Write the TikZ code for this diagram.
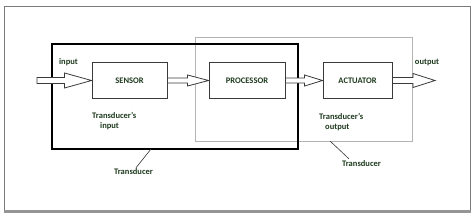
\documentclass[tikz,border=0pt]{standalone}
\usepackage{fontspec}
\setmainfont{Carlito}
\usetikzlibrary{calc}
\definecolor{txt}{HTML}{1E3A1E}
\definecolor{ln}{HTML}{3A3A3A}
\definecolor{frm}{HTML}{7A7A7A}
\definecolor{lgrey}{HTML}{B4B4B4}
\tikzset{
  blk/.style={draw=ln,line width=0.9pt,inner sep=0pt,minimum height=36pt,font=\bfseries\fontsize{8.5}{10}\selectfont,text=txt},
  lbl/.style={inner sep=1pt,font=\bfseries\fontsize{8.5}{10.5}\selectfont,text=txt},
  harr/.style={draw=ln,line width=0.8pt,fill=white,line join=miter},
  lead/.style={draw=ln,line width=0.6pt}
}
\newcommand\harrow[5]{%
  \draw[harr] ($(#1)+(0,-#4)$) -- ($(#2)+(-#3,-#4)$) -- ($(#2)+(-#3,-#5)$) -- (#2)
    -- ($(#2)+(-#3,#5)$) -- ($(#2)+(-#3,#4)$) -- ($(#1)+(0,#4)$) -- cycle;}
\begin{document}
\begin{tikzpicture}[x=1pt,y=-1pt]
\useasboundingbox (0,0) rectangle (474,214);
\fill[white] (0,0) rectangle (474,214);
% outer frame
\draw[frm,line width=1pt] (4,6) rectangle (470,211);
\draw[frm!80,line width=2.5pt] (4,211.5) -- (471,211.5);
% transducer boxes
\draw[lgrey,line width=1pt] (195,37) rectangle (412,141);
\draw[black,line width=1.5pt] (52,44) rectangle (298,149);
% blocks
\node[blk,minimum width=75pt] (sensor) at (129.5,80.5) {SENSOR};
\node[blk,minimum width=76pt] (proc) at (247,80.5) {PROCESSOR};
\node[blk,minimum width=69pt] (act) at (357.5,80.5) {ACTUATOR};
\coordinate (in) at (37,80.5);
\coordinate (out) at (435,80.5);
% arrows
\harrow{in}{sensor.west}{27}{3}{7.5}
\harrow{sensor.east}{proc.west}{21}{2.5}{5.5}
\harrow{proc.east}{act.west}{18}{2.5}{5.5}
\harrow{act.east}{out}{22}{3}{7}
% labels
\node[lbl] (inl) at (68.5,62) {input};
\node[lbl] (outl) at (427,62) {output};
\node[lbl,anchor=north west,align=left] (tin) at (91,111) {Transducer's\\\hspace*{8pt}input};
\node[lbl,anchor=north west,align=left] (tout) at (318,112) {Transducer's\\\hspace*{6pt}output};
\node[lbl] (tl) at (133.5,172) {Transducer};
\node[lbl] (tr) at (361.5,164) {Transducer};
\coordinate (pl) at (151,149);
\coordinate (pr) at (330,141);
\draw[lead] (pl) -- ($(tl.north)+(2.5,0)$);
\draw[lead] (pr) -- ($(tr.north west)+(8,-1)$);
\end{tikzpicture}
\end{document}
